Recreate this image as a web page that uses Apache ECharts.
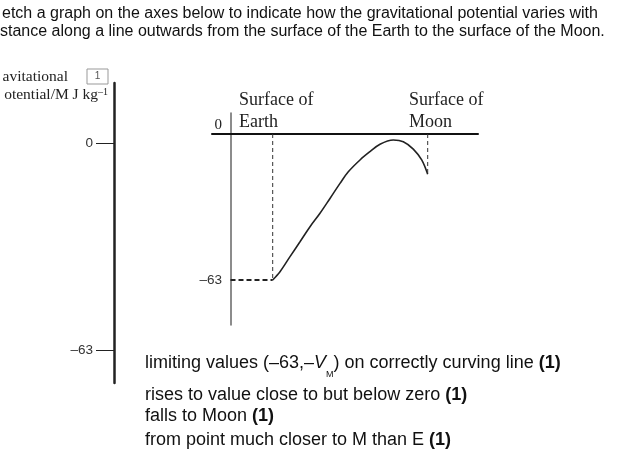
<!DOCTYPE html>
<html>
<head>
<meta charset="utf-8">
<script src="https://cdn.jsdelivr.net/npm/echarts@6/dist/echarts.min.js"></script>
<style>
html,body{margin:0;padding:0;background:#fff;}
#chart{width:620px;height:465px;}
</style>
</head>
<body>
<div id="chart"></div>
<script>
// ---- data ----
const headerLines = [
  'etch a graph on the axes below to indicate how the gravitational potential varies with',
  'stance along a line outwards from the surface of the Earth to the surface of the Moon.'
];
const axisTitleLines = ['avitational', 'otential/M J kg'];
const markBoxText = '1';
const outerTicks = [0, -63];
const innerTicks = [-63];
const innerZeroLabel = '0';
const earthLabel = ['Surface of', 'Earth'];
const moonLabel = ['Surface of', 'Moon'];
const earthX = 42.2;
const moonX = 197.2;
const earthV = -63;
const moonV = -17.4;
const curveX = [42.2, 49.5, 59.5, 69.5, 79.5, 89.5, 99.5, 109.5, 117.8, 129.5, 139.5, 149.5, 162.8, 172.8, 182.8, 191.2, 197.2];
const curveV = [-63, -59.4, -52.9, -46.5, -40.0, -34.2, -27.8, -21.3, -16.3, -11.2, -7.6, -4.4, -2.6, -3.3, -6.5, -11.2, -17.4];
const markLines = [
  'rises to value close to but below zero ',
  'falls to Moon ',
  'from point much closer to M than E '
];

// ---- build ----
const fmtNum = v => (v < 0 ? '\u2013' + Math.abs(v) : String(v));
const curve = curveX.map((x, i) => [x, curveV[i]]);
const serif = '"Liberation Serif", "Times New Roman", serif';
const sans = '"Liberation Sans", Arial, sans-serif';

const chart = echarts.init(document.getElementById('chart'), null, {renderer: 'canvas'});
const option = {
  backgroundColor: '#fff',
  animation: false,
  grid: [
    {left: 114, top: 83, width: 1, height: 300, containLabel: false},
    {left: 212, top: 113, width: 266, height: 212, containLabel: false}
  ],
  xAxis: [
    {gridIndex: 0, type: 'value', show: false, min: 0, max: 1},
    {gridIndex: 1, type: 'value', min: -18.5, max: 247.5,
      axisLine: {show: true, onZero: true, lineStyle: {color: '#111', width: 2}},
      axisTick: {show: false}, axisLabel: {show: false}, splitLine: {show: false}}
  ],
  yAxis: [
    {gridIndex: 0, type: 'value', min: -73, max: 18.3, position: 'left',
      axisLine: {show: true, onZero: false, lineStyle: {color: '#222', width: 2.5}},
      axisTick: {show: true, inside: false, length: 18, customValues: outerTicks, lineStyle: {color: '#222', width: 1}},
      axisLabel: {show: true, customValues: outerTicks, margin: 21, color: '#333', fontFamily: sans, fontSize: 13.5,
        formatter: v => fmtNum(v)},
      splitLine: {show: false}},
    {gridIndex: 1, type: 'value', min: -82.4, max: 9.06,
      axisLine: {show: true, onZero: true, lineStyle: {color: '#666', width: 1.5}},
      axisTick: {show: false},
      axisLabel: {show: true, customValues: innerTicks, margin: -10, color: '#333', fontFamily: sans, fontSize: 13.5,
        formatter: v => fmtNum(v)},
      splitLine: {show: false}}
  ],
  series: [
    {type: 'line', xAxisIndex: 1, yAxisIndex: 1, data: curve, smooth: 0.35, showSymbol: false,
      lineStyle: {color: '#222', width: 1.6}, silent: true},
    {type: 'line', xAxisIndex: 1, yAxisIndex: 1, data: [[earthX, 0], [earthX, earthV]], showSymbol: false,
      lineStyle: {color: '#333', width: 1, type: [4, 3]}, silent: true},
    {type: 'line', xAxisIndex: 1, yAxisIndex: 1, data: [[0, earthV], [earthX, earthV]], showSymbol: false,
      lineStyle: {color: '#222', width: 2, type: [5, 3]}, silent: true},
    {type: 'line', xAxisIndex: 1, yAxisIndex: 1, data: [[moonX, 0], [moonX, moonV]], showSymbol: false,
      lineStyle: {color: '#333', width: 1, type: [4, 3]}, silent: true}
  ],
  graphic: [
    {type: 'text', left: 2, top: 6, style: {text: headerLines[0], font: '16px ' + sans, fill: '#111'}},
    {type: 'text', left: 0, top: 24, style: {text: headerLines[1], font: '16px ' + sans, fill: '#111'}},
    {type: 'text', x: 68, y: 77, style: {text: axisTitleLines[0], font: '15.5px ' + serif, fill: '#222', align: 'right', verticalAlign: 'middle'}},
    {type: 'text', x: 108, y: 95, style: {text: '{n|' + axisTitleLines[1] + '}{s|\u20131}', align: 'right', verticalAlign: 'middle',
      rich: {n: {font: '15.5px ' + serif, fill: '#222', verticalAlign: 'bottom'}, s: {font: '10px ' + serif, fill: '#222', verticalAlign: 'top'}}}},
    {type: 'rect', shape: {x: 87, y: 69, width: 21, height: 15}, style: {fill: '#fff', stroke: '#999', lineWidth: 1}},
    {type: 'text', x: 97.5, y: 76.5, style: {text: markBoxText, font: '10px ' + sans, fill: '#555', align: 'center', verticalAlign: 'middle'}},
    {type: 'text', x: 222, y: 125, style: {text: innerZeroLabel, font: '15px ' + serif, fill: '#222', align: 'right', verticalAlign: 'middle'}},
    {type: 'text', x: 239, y: 100, style: {text: earthLabel[0], font: '18px ' + serif, fill: '#222', verticalAlign: 'middle'}},
    {type: 'text', x: 239, y: 122, style: {text: earthLabel[1], font: '18px ' + serif, fill: '#222', verticalAlign: 'middle'}},
    {type: 'text', x: 409, y: 100, style: {text: moonLabel[0], font: '18px ' + serif, fill: '#222', verticalAlign: 'middle'}},
    {type: 'text', x: 409, y: 122, style: {text: moonLabel[1], font: '18px ' + serif, fill: '#222', verticalAlign: 'middle'}},
    {type: 'text', x: 145, y: 363, style: {
      text: '{n|limiting values (\u201363,\u2013}{i|V}{s|M}{n|) on correctly curving line }{b|(1)}',
      verticalAlign: 'middle',
      rich: {
        n: {font: '18px ' + sans, fill: '#111', verticalAlign: 'middle'},
        i: {font: 'italic 18px ' + sans, fill: '#111', verticalAlign: 'middle'},
        s: {font: '9px ' + sans, fill: '#111', verticalAlign: 'bottom', padding: [24, 0, 0, 0]},
        b: {font: 'bold 18px ' + sans, fill: '#111', verticalAlign: 'middle'}
      }}},
    {type: 'text', x: 145, y: 395.5, style: {text: '{n|' + markLines[0] + '}{b|(1)}', verticalAlign: 'middle',
      rich: {n: {font: '18px ' + sans, fill: '#111'}, b: {font: 'bold 18px ' + sans, fill: '#111'}}}},
    {type: 'text', x: 145, y: 416.5, style: {text: '{n|' + markLines[1] + '}{b|(1)}', verticalAlign: 'middle',
      rich: {n: {font: '18px ' + sans, fill: '#111'}, b: {font: 'bold 18px ' + sans, fill: '#111'}}}},
    {type: 'text', x: 145, y: 440, style: {text: '{n|' + markLines[2] + '}{b|(1)}', verticalAlign: 'middle',
      rich: {n: {font: '18px ' + sans, fill: '#111'}, b: {font: 'bold 18px ' + sans, fill: '#111'}}}}
  ]
};
chart.setOption(option);
</script>
</body>
</html>
